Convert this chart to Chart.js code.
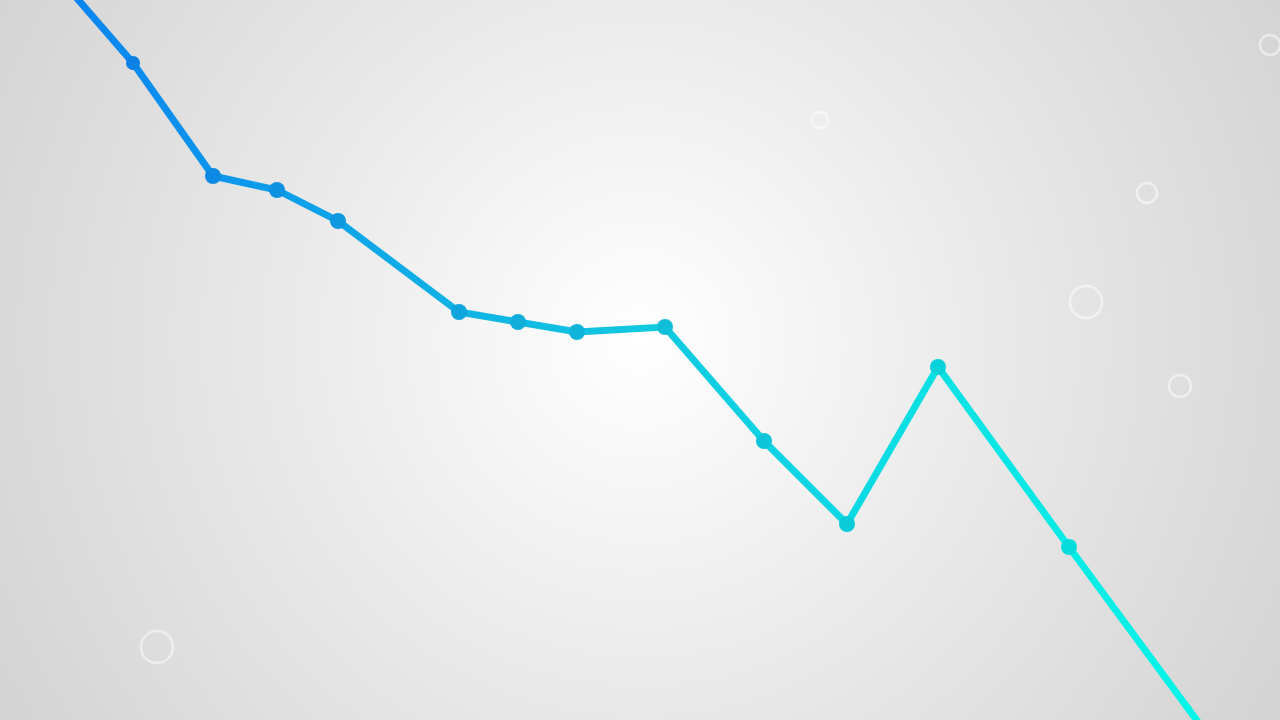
<!DOCTYPE html>
<html><head><meta charset="utf-8">
<style>html,body{margin:0;padding:0;width:1280px;height:720px;overflow:hidden;}
#wrap{width:1280px;height:720px;position:relative;}
canvas{display:block;}</style>
<script src="https://cdn.jsdelivr.net/npm/chart.js@4"></script>
</head><body><div id="wrap"><canvas id="c" width="1280" height="720" style="width:1280px;height:720px"></canvas></div>
<script>
const xValues = [55, 133, 213, 277, 338, 459, 518, 577, 665, 764, 847, 938, 1069, 1215];
const yValues = [-27, 63, 176, 190, 221, 312, 322, 332, 327, 441, 524, 367, 547, 745];
const pointRadii = [0, 7, 8, 8, 8, 8, 8, 8, 8, 8, 8, 8, 8, 0];
const bubbles = [[1086,302,16],[1180,386,11],[1147,193,10],[157,647,16],[820,120,8],[1270,45,10]];

const bgPlugin = {
  id:'bg',
  beforeDraw(chart){
    const {ctx, width, height} = chart;
    ctx.save();
    const g = ctx.createRadialGradient(640,340,0,640,340,760);
    g.addColorStop(0,'#ffffff');
    g.addColorStop(0.45,'#eaeaea');
    g.addColorStop(1,'#d2d2d2');
    ctx.fillStyle = g;
    ctx.fillRect(0,0,width,height);
    ctx.lineWidth = 2.5;
    bubbles.forEach(b=>{
      ctx.strokeStyle='rgba(255,255,255,0.5)';
      ctx.beginPath(); ctx.arc(b[0],b[1],b[2],0,Math.PI*2); ctx.stroke();
    });
    ctx.restore();
  }
};

function grad(ctx, dark){
  const chart = ctx.chart;
  const g = chart.ctx.createLinearGradient(0,0,chart.width,0);
  if(dark){
    g.addColorStop(0,'#0a70e8'); g.addColorStop(0.5,'#10bcd8'); g.addColorStop(1,'#00ecdc');
  } else {
    g.addColorStop(0,'#0a7cf2'); g.addColorStop(0.5,'#12c8e0'); g.addColorStop(1,'#00fce8');
  }
  return g;
}

new Chart(document.getElementById('c'), {
  type:'line',
  data:{datasets:[{
    data: xValues.map((x,i)=>({x:x, y:yValues[i]})),
    borderColor: c=>grad(c,false),
    backgroundColor: c=>grad(c,true),
    pointBackgroundColor: c=>grad(c,true),
    pointBorderWidth:0,
    borderWidth:7,
    pointRadius: pointRadii,
    tension:0,
    fill:false
  }]},
  options:{
    responsive:false, maintainAspectRatio:false, animation:false, devicePixelRatio:1,
    layout:{padding:0},
    plugins:{legend:{display:false}, tooltip:{enabled:false}},
    scales:{
      x:{type:'linear', min:0, max:1280, display:false},
      y:{type:'linear', min:0, max:720, reverse:true, display:false}
    }
  },
  plugins:[bgPlugin]
});
</script></body></html>
